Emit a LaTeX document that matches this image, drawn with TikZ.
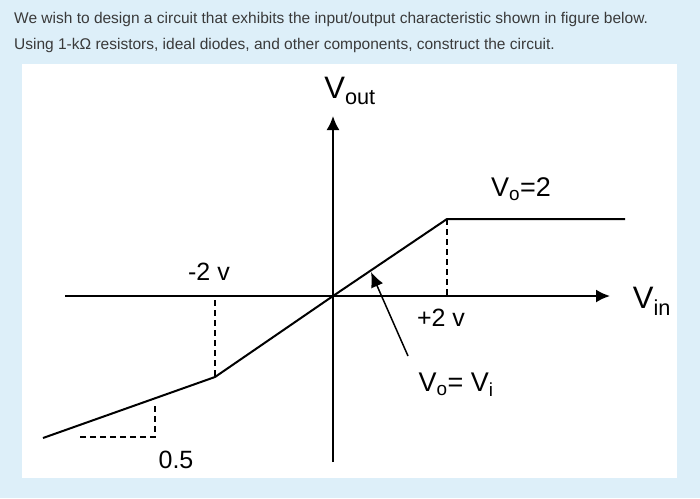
\documentclass[tikz,border=0pt]{standalone}
\usepackage{fontspec}
\usetikzlibrary{arrows.meta}
\setmainfont{Liberation Sans}
\definecolor{bgblue}{HTML}{DDEFF9}
\definecolor{txtgray}{HTML}{3A3A3A}
\begin{document}
\begin{tikzpicture}[x=1pt,y=-1pt,
  lbl/.style={inner sep=0pt,font=\fontsize{25}{27}\selectfont},
  big/.style={inner sep=0pt,font=\fontsize{31}{33}\selectfont},
  curve/.style={line width=2pt},
  dsh/.style={line width=1.5pt,dash pattern=on 6pt off 4pt},
  ttl/.style={anchor=west,inner sep=0pt,text=txtgray,font=\fontsize{15.5}{17}\selectfont}]
\fill[bgblue] (0,0) rectangle (700,498);
\useasboundingbox (0,0) rectangle (700,498);
\fill[white] (22,64) rectangle (677,478);
\node[ttl] (t1) at (14,19) {We wish to design a circuit that exhibits the input/output characteristic shown in figure below.};
\node[ttl] (t2) at (14,45) {Using 1-k\symbol{"03A9} resistors, ideal diodes, and other components, construct the circuit.};
% axes
\coordinate (ybot) at (333,462);
\coordinate (ytop) at (333,116);
\coordinate (xl) at (65,296);
\coordinate (xr) at (610,296);
\draw[line width=2pt,-{Latex[length=14pt,width=13pt]}] (ybot) -- (ytop);
\draw[line width=2pt,-{Latex[length=14pt,width=13pt]}] (xl) -- (xr);
% curve
\coordinate (p0) at (43,438);
\coordinate (p1) at (215,377);
\coordinate (o) at (333,296);
\coordinate (p2) at (447,219);
\coordinate (p3) at (625,219);
\draw[curve] (p0) -- (p1) -- (o) -- (p2) -- (p3);
\draw[dsh] (p2) -- (447,296);
\draw[dsh] (215,300) -- (p1);
\coordinate (q) at (155,406);
\draw[dsh] (q) -- (155,437) -- (80,437);
% pointer
\coordinate (pa) at (408,356);
\coordinate (pb) at (371,272);
\draw[line width=1.5pt,-{Latex[length=15pt,width=13pt]}] (pa) -- (pb);
% labels
\node[big] (vout) at (350,91) {V\textsubscript{out}};
\node[lbl,font=\fontsize{27}{29}\selectfont] (vo2) at (521,189) {V\textsubscript{o}=2};
\node[lbl] (m2) at (209,272) {-2 v};
\node[lbl] (p2l) at (441,318) {+2 v};
\node[lbl,font=\fontsize{27}{29}\selectfont] (vovi) at (456,385) {V\textsubscript{o}= V\textsubscript{i}};
\node[big] (vin) at (652,301) {V\textsubscript{in}};
\node[lbl] (half) at (176,460) {0.5};
\end{tikzpicture}
\end{document}
